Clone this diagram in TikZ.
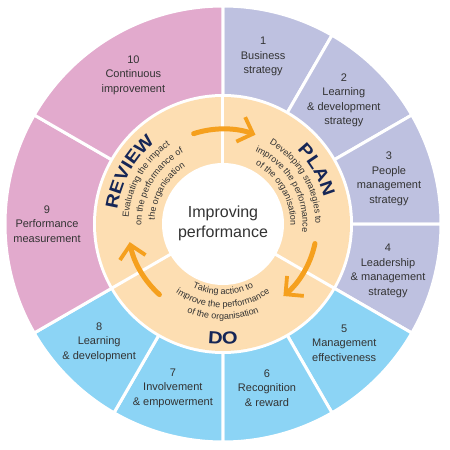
\documentclass[tikz,border=0pt]{standalone}
\usepackage{fontspec}
\setmainfont{Liberation Sans}
\newfontfamily\stagefont{Liberation Sans Bold}[FakeStretch=1.15]
\usepackage{xcolor}
\usepackage{tikz}
\usetikzlibrary{arrows.meta, decorations.text}

\definecolor{planlav}{HTML}{BEC1E0}
\definecolor{doblue}{HTML}{8CD4F5}
\definecolor{reviewpink}{HTML}{E2AACD}
\definecolor{ringorange}{HTML}{FDDEB2}
\definecolor{arroworange}{HTML}{F5A01E}
\definecolor{stagenavy}{HTML}{162656}
\definecolor{textgrey}{HTML}{333333}

\begin{document}
\begin{tikzpicture}[
    x=1pt, y=1pt,
    seg/.style={draw=white, line width=3pt},
    gap/.style={draw=white, line width=3pt},
    seglabel/.style={align=center, text=textgrey, inner sep=0pt,
      font=\fontsize{11}{14.5}\selectfont},
    centrelabel/.style={align=center, text=textgrey, inner sep=0pt,
      font=\fontsize{16}{20}\selectfont},
    cyclearrow/.style={draw=arroworange, line width=5pt, line cap=round,
      -{Straight Barb[length=13pt, width=26pt, line width=3.8pt]}},
    stage/.style={decorate, decoration={text along path, text align=center,
      text color=stagenavy, text={|\stagefont\fontsize{17.5}{17.5}\selectfont|#1}}},
    ringtext/.style={decorate, decoration={text along path, text align=center,
      text color=textgrey, text={|\fontsize{9}{10}\selectfont|#1}}}
]
\useasboundingbox (-223,-226) rectangle (227,224);

\foreach \from/\to/\col in {60/90/planlav, 30/60/planlav, 0/30/planlav, -30/0/planlav,
    -60/-30/doblue, -90/-60/doblue, -120/-90/doblue, -150/-120/doblue,
    150/210/reviewpink, 90/150/reviewpink}
  \path[seg, fill=\col] (\from:218) arc[start angle=\from, end angle=\to, radius=218]
    -- (\to:128.5) arc[start angle=\to, end angle=\from, radius=128.5] -- cycle;

\fill[ringorange] (0,0) circle[radius=127];
\fill[white] (0,0) circle[radius=61];
\foreach \a in {90,-30,-150}
  \draw[gap] (\a:60) -- (\a:128);

\node[centrelabel] (core) at (0,1) {Improving\\performance};

\node[seglabel] (s1) at (76.5:172) {1\\Business\\strategy};
\node[seglabel] (s2) at (45.7:173) {2\\Learning\\\& development\\strategy};
\node[seglabel] (s3) at (15.2:172) {3\\People\\management\\strategy};
\node[seglabel] (s4) at (-15.9:171.6) {4\\Leadership\\\& management\\strategy};
\node[seglabel] (s5) at (-44.5:170) {5\\Management\\effectiveness};
\node[seglabel] (s6) at (-75:170) {6\\Recognition\\\& reward};
\node[seglabel] (s7) at (-107:171.5) {7\\Involvement\\\& empowerment};
\node[seglabel] (s8) at (-136.4:171) {8\\Learning\\\& development};
\node[seglabel] (s9) at (180:176) {9\\Performance\\measurement};
\node[seglabel] (s10) at (121:174) {10\\Continuous\\improvement};

\path[stage=PLAN] (75:104.5) arc[start angle=75, end angle=-15, radius=104.5];
\path[stage=REVIEW] (196:106.5) arc[start angle=196, end angle=106, radius=106.5];
\path[stage=DO] (-135:120) arc[start angle=-135, end angle=-45, radius=120];

\path[ringtext={Developing strategies to}] (80:92.5) arc[start angle=80, end angle=-20, radius=92.5];
\path[ringtext={improve the performance}] (80:79.5) arc[start angle=80, end angle=-20, radius=79.5];
\path[ringtext={of the organisation}] (80:67.5) arc[start angle=80, end angle=-20, radius=67.5];

\path[ringtext={Evaluating the impact}] (200:94.5) arc[start angle=200, end angle=100, radius=94.5];
\path[ringtext={on the performance of}] (200:81.5) arc[start angle=200, end angle=100, radius=81.5];
\path[ringtext={the organisation}] (200:68.5) arc[start angle=200, end angle=100, radius=68.5];

\path[ringtext={Taking action to}] (-140:70.5) arc[start angle=-140, end angle=-40, radius=70.5];
\path[ringtext={improve the performance}] (-140:83.5) arc[start angle=-140, end angle=-40, radius=83.5];
\path[ringtext={of the organisation}] (-140:95.5) arc[start angle=-140, end angle=-40, radius=95.5];

\coordinate (reviewend) at (108:95);
\coordinate (planend) at (-12:94);
\coordinate (doend) at (-132:95);
\draw[cyclearrow] (reviewend) arc[start angle=108, end angle=70, radius=95];
\draw[cyclearrow] (planend) arc[start angle=-12, end angle=-50, radius=94];
\draw[cyclearrow] (doend) arc[start angle=-132, end angle=-169, radius=95];
\end{tikzpicture}
\end{document}
